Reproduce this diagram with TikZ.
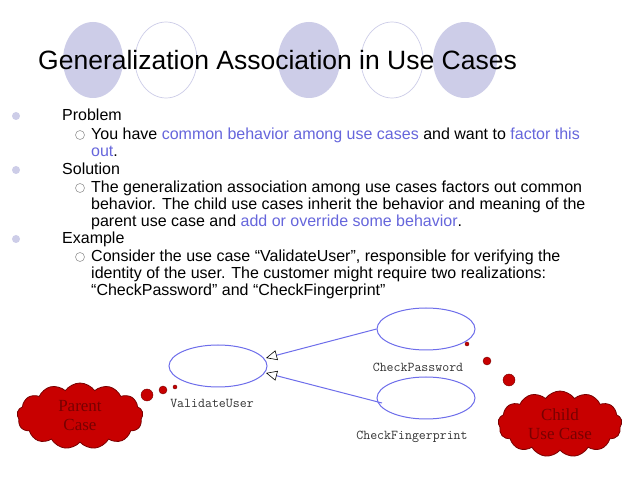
\documentclass[tikz,border=0pt]{standalone}
\usepackage{fontspec}
\setmainfont{Liberation Sans}
\newfontfamily\serifx{Liberation Serif}
\usetikzlibrary{shapes.symbols,shapes.geometric,arrows.meta}
\definecolor{lav}{RGB}{205,205,232}
\definecolor{hl}{RGB}{102,102,220}
\definecolor{uc}{RGB}{110,110,235}
\definecolor{cloudred}{RGB}{200,0,0}
\definecolor{cloudtxt}{RGB}{120,0,0}
\begin{document}
\begin{tikzpicture}[x=1pt,y=-1pt,
  txt/.style={anchor=base west,inner sep=0pt,font=\fontsize{16}{18}\selectfont},
  bul/.style={circle,fill=lav,minimum size=8pt,inner sep=0pt},
  bulb/.style={circle,draw=gray!80,line width=0.6pt,minimum size=9pt,inner sep=0pt},
  usecase/.style={ellipse,draw=uc,line width=1pt,minimum width=98pt,minimum height=42pt},
  gen/.style={draw=uc,line width=1pt,-{Triangle[open,length=11pt,width=10pt,color=black,fill=white,line width=0.6pt]}},
  lbl/.style={font=\ttfamily\fontsize{13.5}{15}\selectfont,text=black!80},
  cloudn/.style={cloud,cloud puffs=13,cloud puff arc=110,aspect=2,fill=cloudred,draw=cloudtxt,line width=0.8pt,text=cloudtxt,font=\serifx\fontsize{17}{19}\selectfont,align=center},
  dot/.style={circle,fill=cloudred,draw=cloudtxt,inner sep=0pt}]
\useasboundingbox (0,0) rectangle (638,478);
\fill[white] (0,0) rectangle (638,478);
% title decoration
\fill[lav] (93,60) ellipse (30 and 38);
\draw[lav,line width=0.7pt] (166,60) ellipse (31 and 38);
\fill[lav] (309,60) ellipse (31 and 38);
\draw[lav,line width=0.7pt] (392,60) ellipse (31 and 38);
\fill[lav] (465,60) ellipse (32 and 38);
\node[anchor=base west,inner sep=0pt,font=\fontsize{26.5}{30}\selectfont] (title) at (38,70) {Generalization Association in Use Cases};
% bullets
\node[bul] (b1) at (16,116) {};
\node[txt] (t1) at (62,121) {Problem};
\node[bulb] (b2) at (80,135) {};
\node[txt] (t2) at (91,140) {You have \textcolor{hl}{common behavior among use cases} and want to \textcolor{hl}{factor this}};
\node[txt] (t3) at (91,157) {\textcolor{hl}{out}.};
\node[bul] (b3) at (16,170) {};
\node[txt] (t4) at (62,175) {Solution};
\node[bulb] (b4) at (80,188) {};
\node[txt] (t5) at (91,193) {The generalization association among use cases factors out common};
\node[txt] (t6) at (91,210) {behavior. The child use cases inherit the behavior and meaning of the};
\node[txt] (t7) at (91,227) {parent use case and \textcolor{hl}{add or override some behavior}.};
\node[bul] (b5) at (16,239) {};
\node[txt] (t8) at (62,244) {Example};
\node[bulb] (b6) at (80,257) {};
\node[txt] (t9) at (91,262) {Consider the use case “ValidateUser”, responsible for verifying the};
\node[txt] (t10) at (91,279) {identity of the user. The customer might require two realizations:};
\node[txt] (t11) at (91,296) {“CheckPassword” and “CheckFingerprint”};
% diagram
\node[usecase] (vu) at (218,366) {};
\node[usecase] (cp) at (426,329) {};
\node[usecase] (cf) at (426,398) {};
\coordinate (tip1) at (266,358);
\coordinate (tip2) at (266,373);
\draw[gen] (cp.west) -- (tip1);
\draw[gen] (382,403) -- (tip2);
\node[lbl] (lvu) at (212,403) {ValidateUser};
\node[lbl] (lcp) at (418,367) {CheckPassword};
\node[lbl] (lcf) at (412,437) {CheckFingerprint};
\node[cloudn,minimum width=126pt,minimum height=66pt] (pc) at (80,416) {Parent\\Case};
\node[cloudn,minimum width=124pt,minimum height=66pt] (cc) at (560,424) {Child\\Use Case};
\node[dot,minimum size=4pt] (d1) at (175,387) {};
\node[dot,minimum size=8pt] (d2) at (163,390) {};
\node[dot,minimum size=12pt] (d3) at (147,395) {};
\node[dot,minimum size=4pt] (d4) at (467,344) {};
\node[dot,minimum size=8pt] (d5) at (487,361) {};
\node[dot,minimum size=12pt] (d6) at (509,380) {};
\end{tikzpicture}
\end{document}
